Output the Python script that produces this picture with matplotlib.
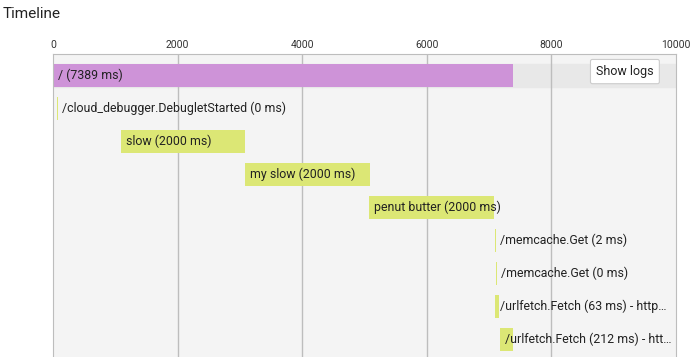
import matplotlib
matplotlib.use("Agg")
from matplotlib import pyplot as plt

plt.rcParams['font.family'] = ['Roboto', 'DejaVu Sans']

labels = ["/ (7389 ms)",
          "/cloud_debugger.DebugletStarted (0 ms)",
          "slow (2000 ms)",
          "my slow (2000 ms)",
          "penut butter (2000 ms)",
          "/memcache.Get (2 ms)",
          "/memcache.Get (0 ms)",
          "/urlfetch.Fetch (63 ms) - http\u2026",
          "/urlfetch.Fetch (212 ms) - htt\u2026"]
starts = [0, 60, 1085, 3085, 5080, 7100, 7110, 7100, 7170]
durations = [7389, 0, 2000, 2000, 2000, 2, 0, 63, 212]
colors = ["#ce93d8"] + ["#dce775"] * 8
ticks = [0, 2000, 4000, 6000, 8000, 10000]

fig = plt.figure(figsize=(6.97, 3.57), dpi=100)
ax = fig.add_axes([53 / 697, 0, 623 / 697, 303 / 357])
ax.set_facecolor("#f4f4f4")

ax.axhspan(-0.35, 0.35, color="#e8e8e8", zorder=0)
for x in ticks[1:-1]:
    ax.axvline(x, color="#bdbdbd", lw=1, zorder=1)

for i, (lab, s, d, c) in enumerate(zip(labels, starts, durations, colors)):
    # very short spans still get a hairline so they stay visible
    w = max(d, 18)
    ax.barh(i, w, left=s, height=0.7, color=c, zorder=2)
    ax.annotate(lab, (s, i), xytext=(3.6, 0), textcoords="offset points",
                va="center", ha="left", fontsize=8.9, color="#222222", zorder=3)

ax.set_xlim(0, 10000)
ax.set_ylim(8.53, -0.65)
ax.set_yticks([])
ax.set_xticks(ticks)
ax.set_xticklabels([str(t) for t in ticks], fontsize=7.5, color="#333333")
ax.xaxis.tick_top()
ax.tick_params(axis="x", length=0, pad=3)
for side in ["top", "left", "right"]:
    ax.spines[side].set_color("#bdbdbd")
ax.spines["bottom"].set_visible(False)

ax.text(0.918, 0.942, "Show logs", transform=ax.transAxes, ha="center", va="center",
        fontsize=9, color="#222222", zorder=5,
        bbox=dict(boxstyle="round,pad=0.45,rounding_size=0.15", fc="white", ec="#cccccc", lw=0.8))

fig.text(3 / 697, 1 - 14 / 357, "Timeline", fontsize=11, color="#222222", va="center", ha="left")

fig.savefig("out.png", dpi=100)
